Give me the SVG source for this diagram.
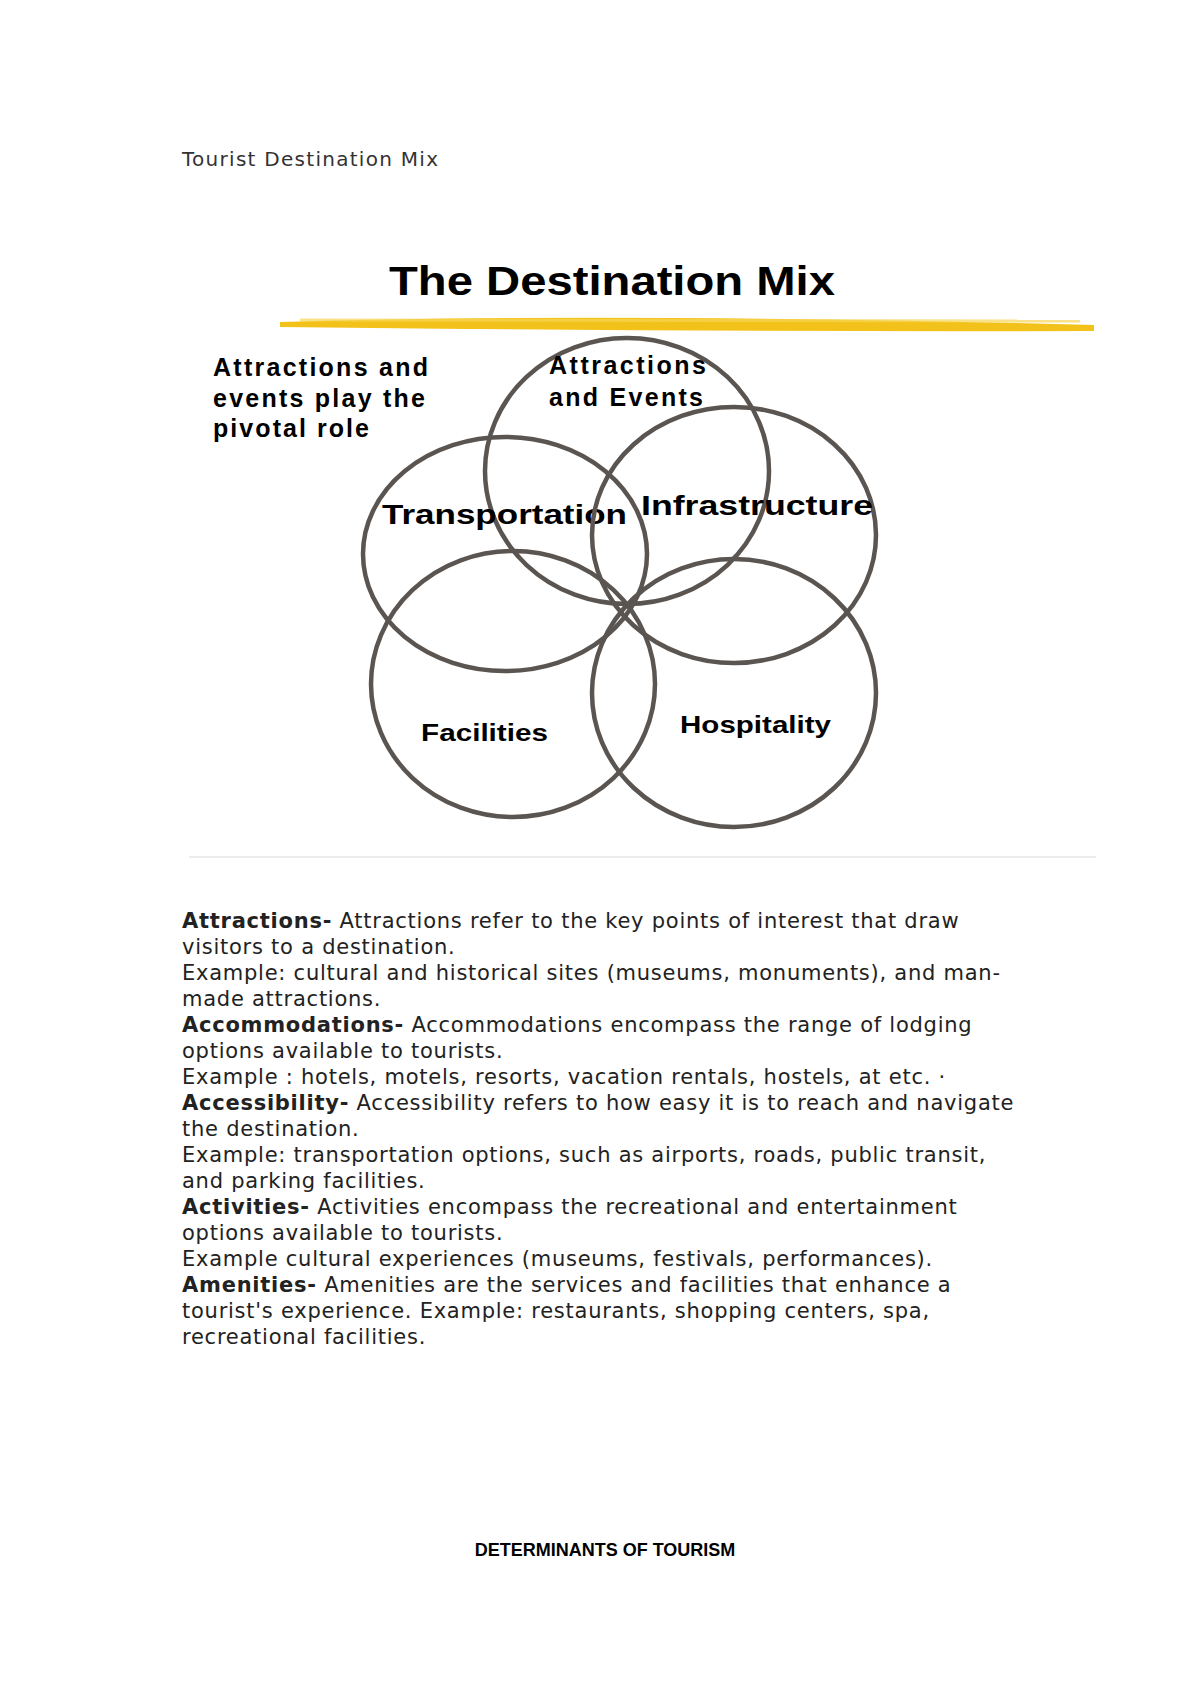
<svg xmlns="http://www.w3.org/2000/svg" width="1200" height="1698" viewBox="0 0 1200 1698">
<style>
.c{fill:none;stroke:#5b5551;stroke-width:4.5}
.lb{font-family:"Liberation Sans",Arial,sans-serif;font-weight:bold;fill:#000}
.b{font-family:"DejaVu Sans",sans-serif;font-size:21px;letter-spacing:0.75px;fill:#222}
.b tspan.h{font-weight:bold}
</style>
<rect width="1200" height="1698" fill="#fff"/>
<text x="182" y="166" font-family="DejaVu Sans, sans-serif" font-size="20" fill="#333" textLength="256">Tourist Destination Mix</text>
<g id="title">
<text class="lb" x="389" y="295" font-size="40" textLength="446" lengthAdjust="spacingAndGlyphs">The Destination Mix</text>
<path d="M280 322 Q600 312 1094 325 L1094 331 Q700 332 280 327 Z" fill="#f2c21b"/>
<path d="M300 320 L1080 321" stroke="#f7d655" stroke-width="3" opacity="0.7"/>
</g>
<g id="note"><text class="lb" font-size="25" lengthAdjust="spacingAndGlyphs"><tspan x="213" y="376" textLength="215">Attractions and</tspan><tspan x="213" y="407" textLength="212">events play the</tspan><tspan x="213" y="437" textLength="156">pivotal role</tspan></text></g>
<g id="attractions"><ellipse class="c" cx="627" cy="471" rx="142" ry="133"/><text class="lb" font-size="25"><tspan x="549" y="374" textLength="157">Attractions</tspan><tspan x="549" y="406" textLength="154">and Events</tspan></text></g>
<g id="transportation"><ellipse class="c" cx="505" cy="554" rx="142" ry="117"/><text class="lb" x="382" y="524" font-size="28" textLength="245" lengthAdjust="spacingAndGlyphs">Transportation</text></g>
<g id="infrastructure"><ellipse class="c" cx="734" cy="535" rx="142" ry="128"/><text class="lb" x="641" y="515" font-size="28" textLength="232" lengthAdjust="spacingAndGlyphs">Infrastructure</text></g>
<g id="facilities"><ellipse class="c" cx="513" cy="684" rx="142" ry="133"/><text class="lb" x="421" y="741" font-size="24" textLength="127" lengthAdjust="spacingAndGlyphs">Facilities</text></g>
<g id="hospitality"><ellipse class="c" cx="734" cy="693" rx="142" ry="134"/><text class="lb" x="680" y="733" font-size="24" textLength="151" lengthAdjust="spacingAndGlyphs">Hospitality</text></g>
<line x1="189" y1="857" x2="1096" y2="857" stroke="#e6e6e6" stroke-width="1.5"/>
<text class="b">
<tspan x="182" y="928"><tspan class="h">Attractions-</tspan>  Attractions refer to the key points of interest that draw</tspan>
<tspan x="182" y="954">visitors to a destination.</tspan>
<tspan x="182" y="980">Example: cultural and historical sites (museums, monuments), and man-</tspan>
<tspan x="182" y="1006">made attractions.</tspan>
<tspan x="182" y="1032"><tspan class="h">Accommodations-</tspan>  Accommodations encompass the range of lodging</tspan>
<tspan x="182" y="1058">options available to tourists.</tspan>
<tspan x="182" y="1084">Example : hotels, motels, resorts, vacation rentals, hostels, at etc. ·</tspan>
<tspan x="182" y="1110"><tspan class="h">Accessibility-</tspan> Accessibility refers to how easy it is to reach and navigate</tspan>
<tspan x="182" y="1136">the destination.</tspan>
<tspan x="182" y="1162">Example: transportation options, such as airports, roads, public transit,</tspan>
<tspan x="182" y="1188">and parking facilities.</tspan>
<tspan x="182" y="1214"><tspan class="h">Activities-</tspan> Activities encompass the recreational and entertainment</tspan>
<tspan x="182" y="1240">options available to tourists.</tspan>
<tspan x="182" y="1266">Example cultural experiences (museums, festivals, performances).</tspan>
<tspan x="182" y="1292"><tspan class="h">Amenities-</tspan> Amenities are the services and facilities that enhance a</tspan>
<tspan x="182" y="1318">tourist's experience. Example: restaurants, shopping centers, spa,</tspan>
<tspan x="182" y="1344">recreational facilities.</tspan>
</text>
<text class="lb" x="605" y="1556" font-size="18" text-anchor="middle">DETERMINANTS OF TOURISM</text>
</svg>
